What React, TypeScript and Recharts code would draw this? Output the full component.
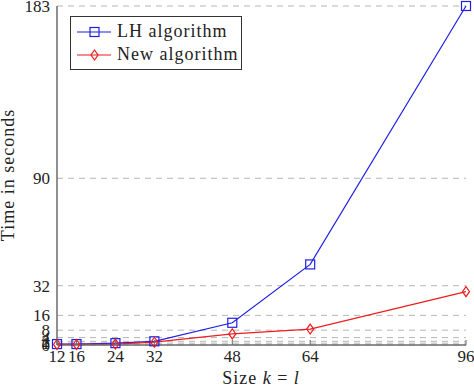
import React from 'react';
import { LineChart, Line, XAxis, YAxis, CartesianGrid } from 'recharts';

const sizes = [12, 16, 24, 32, 48, 64, 96];
const lhTimes = [0.5, 0.5, 1, 2, 12, 43.5, 183];
const newTimes = [0.3, 0.3, 0.5, 1.5, 6, 8.6, 28.8];
const xTicks = [12, 16, 24, 32, 48, 64, 96];
const yTicks = [0, 1, 2, 4, 8, 16, 32, 90, 183];

const data = sizes.map((s, i) => ({ x: s, lh: lhTimes[i], nw: newTimes[i] }));

const BLUE = '#1f1fe6';
const RED = '#ee1c1c';
const FRAME = '#6b6b6b';
const FONT = "'Liberation Serif', serif";
const TICKFONT = 17;
const LABELFONT = 18;
const LS = 1;

const SquareDot = (p: any) => {
  const { cx, cy } = p;
  if (cx == null || cy == null) return null;
  return <rect x={cx - 4.5} y={cy - 4.5} width={9} height={9} fill="none" stroke={BLUE} strokeWidth={1.2} />;
};
const DiamondDot = (p: any) => {
  const { cx, cy } = p;
  if (cx == null || cy == null) return null;
  return <path d={`M${cx},${cy - 5} L${cx + 3.5},${cy} L${cx},${cy + 5} L${cx - 3.5},${cy} Z`} fill="none" stroke={RED} strokeWidth={1.2} />;
};

const BottomTick = (p: any) => {
  const { x, y, payload } = p;
  return (
    <g>
      <line x1={x} y1={y} x2={x} y2={y - 5} stroke={FRAME} strokeWidth={1} />
      <text x={x} y={y + 17} textAnchor="middle" style={{ fontFamily: FONT }} fontSize={TICKFONT} fill="#222">{payload.value}</text>
    </g>
  );
};
const TopTick = (p: any) => {
  const { x, y } = p;
  return <line x1={x} y1={y} x2={x} y2={y + 5} stroke={FRAME} strokeWidth={1} />;
};

const LeftTick = (p: any) => {
  const { x, y, payload } = p;
  return (
    <text x={x} y={y} dy="0.35em" textAnchor="end" style={{ fontFamily: FONT }} fontSize={TICKFONT} fill="#222">{payload.value}</text>
  );
};

const LegendBox = () => (
  <div style={{ position: 'absolute', left: 70, top: 16, border: '1px solid #333', background: '#fff', width: 172, height: 54, fontFamily: FONT, fontSize: LABELFONT, letterSpacing: LS, color: '#222', boxSizing: 'border-box', paddingTop: 3, whiteSpace: 'nowrap' }}>
    <div style={{ display: 'flex', alignItems: 'center', height: 23 }}>
      <svg width={40} height={14} style={{ marginLeft: 6, flex: 'none' }}>
        <line x1={0} y1={7} x2={34} y2={7} stroke={BLUE} strokeWidth={1.2} />
        <rect x={13} y={2.5} width={9} height={9} fill="none" stroke={BLUE} strokeWidth={1.2} />
      </svg>
      <span>LH algorithm</span>
    </div>
    <div style={{ display: 'flex', alignItems: 'center', height: 23 }}>
      <svg width={40} height={14} style={{ marginLeft: 6, flex: 'none' }}>
        <line x1={0} y1={7} x2={34} y2={7} stroke={RED} strokeWidth={1.2} />
        <path d="M17.5,2 L21,7 L17.5,12 L14,7 Z" fill="none" stroke={RED} strokeWidth={1.2} />
      </svg>
      <span>New algorithm</span>
    </div>
  </div>
);

export default function App() {
  return (
    <div style={{ position: 'absolute', left: 0, top: 0, width: 474, height: 387 }}>
      <LineChart width={474} height={387} data={data} margin={{ top: 6, right: 8, left: 0, bottom: 0 }}>
        <CartesianGrid vertical={false} horizontal={true} stroke="#b5b5b5" strokeDasharray="6 5" />
        <XAxis
          dataKey="x"
          type="number"
          domain={[12, 96]}
          ticks={xTicks}
          height={42}
          tickSize={0}
          tickMargin={0}
          tickLine={false}
          stroke={FRAME}
          strokeWidth={1.5}
          tick={<BottomTick />}
          interval={0}
          label={{
            content: () => (
              <text x={261} y={384} textAnchor="middle" style={{ fontFamily: FONT, letterSpacing: LS }} fontSize={LABELFONT} fill="#222">
                Size <tspan fontStyle="italic">k</tspan> = <tspan fontStyle="italic">l</tspan>
              </text>
            ),
          }}
        />
        <XAxis
          xAxisId="top"
          orientation="top"
          dataKey="x"
          type="number"
          domain={[12, 96]}
          ticks={xTicks}
          height={0}
          tickSize={0}
          tickMargin={0}
          tickLine={false}
          stroke={FRAME}
          strokeWidth={1.5}
          tick={<TopTick />}
          interval={0}
        />
        <YAxis
          type="number"
          domain={[0, 183]}
          ticks={yTicks}
          width={57}
          tickSize={0}
          tickMargin={7}
          tickLine={false}
          stroke={FRAME}
          strokeWidth={1.5}
          interval={0}
          tick={<LeftTick />}
          label={{
            content: () => (
              <text x={8} y={175} transform="rotate(-90, 8, 175)" textAnchor="middle" dominantBaseline="central" style={{ fontFamily: FONT, letterSpacing: LS }} fontSize={LABELFONT} fill="#222">
                Time in seconds
              </text>
            ),
          }}
        />
        <YAxis
          yAxisId="right"
          orientation="right"
          type="number"
          domain={[0, 183]}
          width={0}
          tick={false}
          tickLine={false}
          stroke={FRAME}
          strokeWidth={1.5}
        />
        <Line dataKey="lh" stroke={BLUE} strokeWidth={1.2} dot={<SquareDot />} isAnimationActive={false} />
        <Line dataKey="nw" stroke={RED} strokeWidth={1.2} dot={<DiamondDot />} isAnimationActive={false} />
      </LineChart>
      <LegendBox />
    </div>
  );
}
